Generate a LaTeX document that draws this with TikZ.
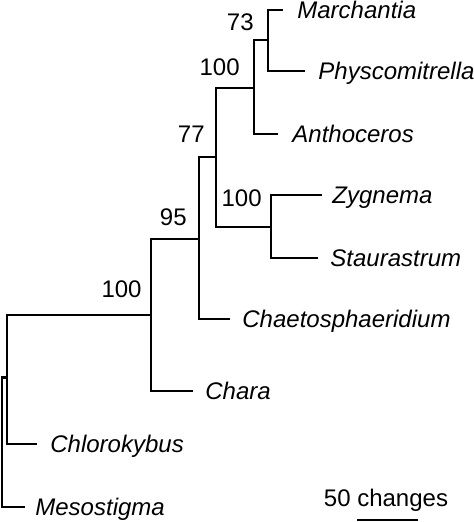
\documentclass[tikz,border=0pt]{standalone}
\usepackage{fontspec}
\setmainfont{Liberation Sans}
\begin{document}
\begin{tikzpicture}[x=0.5pt,y=-0.5pt,
  branch/.style={line width=1.15pt, line join=miter},
  leaf/.style={anchor=west, font=\fontsize{12}{14}\selectfont\itshape, inner xsep=6pt, inner ysep=0pt, text height=8.6pt, text depth=0pt},
  support/.style={anchor=base east, font=\fontsize{12}{14}\selectfont, inner sep=0pt},
  scalelabel/.style={anchor=base, font=\fontsize{12}{14}\selectfont, inner sep=0pt}]
\useasboundingbox (0,0) rectangle (474,522);
% internal nodes
\coordinate (R) at (2,442);
\coordinate (A) at (7,377.5);
\coordinate (B) at (151,315);
\coordinate (C) at (199,239);
\coordinate (D) at (216,157);
\coordinate (E) at (254,88);
\coordinate (G) at (268,40);
\coordinate (F) at (271,227);
% leaves
\node[leaf, inner xsep=7pt] (march) at (283,10) {Marchantia};
\node[leaf, inner xsep=6.5pt] (phys) at (305,71) {Physcomitrella};
\node[leaf, inner xsep=7pt] (antho) at (278,134) {Anthoceros};
\node[leaf, inner xsep=5pt] (zyg) at (322,195) {Zygnema};
\node[leaf] (staur) at (318,258) {Staurastrum};
\node[leaf] (chaeto) at (230,319) {Chaetosphaeridium};
\node[leaf] (chara) at (193,391) {Chara};
\node[leaf, inner xsep=6.5pt] (chloro) at (37,444) {Chlorokybus};
\node[leaf, inner xsep=5pt] (meso) at (25,507) {Mesostigma};
% branches
\draw[branch] (R) |- (A);
\draw[branch] (R) |- (meso.west);
\draw[branch] (A) |- (B);
\draw[branch] (A) |- (chloro.west);
\draw[branch] (B) |- (C);
\draw[branch] (B) |- (chara.west);
\draw[branch] (C) |- (D);
\draw[branch] (C) |- (chaeto.west);
\draw[branch] (D) |- (E);
\draw[branch] (D) |- (F);
\draw[branch] (E) |- (G);
\draw[branch] (E) |- (antho.west);
\draw[branch] (G) |- (march.west);
\draw[branch] (G) |- (phys.west);
\draw[branch] (F) |- (zyg.west);
\draw[branch] (F) |- (staur.west);
% support values
\node[support] (s73) at (254,31) {73};
\node[support] (s100a) at (240,76) {100};
\node[support] (s77) at (205,143) {77};
\node[support] (s95) at (187,226) {95};
\node[support] (s100b) at (262,207) {100};
\node[support] (s100c) at (142,298) {100};
% scale bar
\coordinate (sbL) at (357,520);
\coordinate (sbR) at (418,520);
\draw[branch] (sbL) -- (sbR);
\node[scalelabel] (sblabel) at (386,506) {50 changes};
\end{tikzpicture}
\end{document}
